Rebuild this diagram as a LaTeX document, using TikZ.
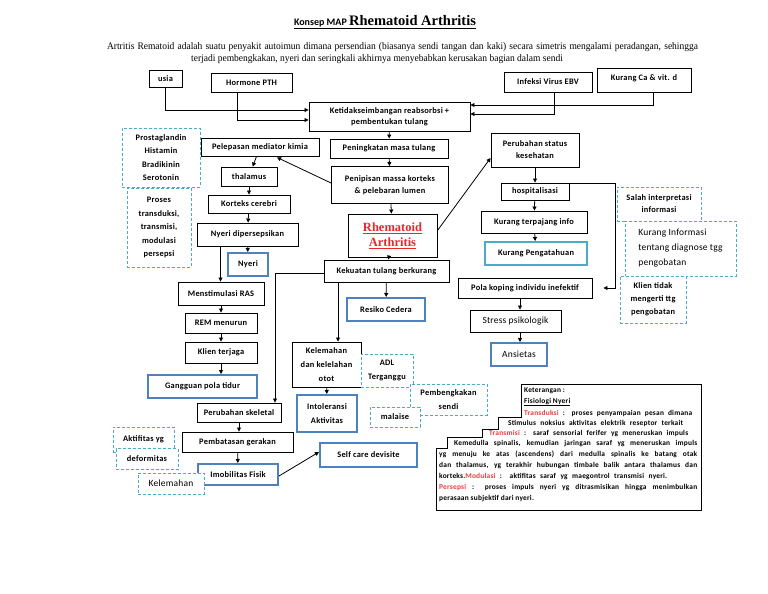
\documentclass[tikz,border=0pt]{standalone}
\usepackage{fontspec}
\setmainfont{Carlito}
\newfontfamily\timesf{Liberation Serif}
\newfontfamily\timesn[FakeStretch=0.95]{Liberation Serif}
\usetikzlibrary{arrows.meta,calc}
\definecolor{bluebox}{HTML}{4F81BD}
\definecolor{tealdash}{HTML}{4BACC6}
\definecolor{rared}{HTML}{E8262B}
\definecolor{ketred}{HTML}{F03C3C}
\newcommand{\kr}[1]{\textcolor{ketred}{#1}}
\tikzset{
 box/.style={draw=black, line width=0.9pt, fill=white, inner sep=1pt, align=center,
   font=\bfseries\fontsize{8.4}{14}\selectfont\addfontfeature{LetterSpace=3}},
 bbox/.style={box, draw=bluebox, line width=2pt},
 tbox/.style={box, draw=tealdash, line width=2pt},
 dbox/.style={box, draw=tealdash, line width=0.8pt, dash pattern=on 3pt off 2pt},
 regtext/.style={font=\mdseries\fontsize{9.5}{15}\selectfont\addfontfeature{LetterSpace=2}},
 arr/.style={-{Triangle[length=4pt,width=4pt]}, line width=0.8pt},
 ket/.style={anchor=base west, inner sep=0, font=\bfseries\fontsize{7.4}{8}\selectfont\addfontfeature{LetterSpace=3}},
 sz/.style 2 args={minimum width=#1pt, minimum height=#2pt},
}
\begin{document}
\begin{tikzpicture}[x=1pt,y=-1pt]
\useasboundingbox[fill=white] (0,0) rectangle (768,594);

% title and intro
\node[inner sep=0] (title) at (385,22) {$\underline{\hbox{\bfseries\fontsize{10}{11}\selectfont Konsep MAP \timesf\fontsize{14.5}{16}\selectfont Rhematoid Arthritis}}$};
\node[inner sep=0, font=\timesn\fontsize{10}{12}\selectfont] (intro1) at (402.5,47) {\makebox[591pt][s]{Artritis Rematoid adalah suatu penyakit autoimun dimana persendian (biasanya sendi tangan dan kaki) secara simetris mengalami peradangan, sehingga}};
\node[inner sep=0, font=\timesn\fontsize{10}{12}\selectfont] (intro2) at (377,59) {terjadi pembengkakan, nyeri dan seringkali akhirnya menyebabkan kerusakan bagian dalam sendi};

% top row
\node[box, sz={33}{17}] (usia) at (165.5,78.5) {usia};
\node[box, sz={81}{19}] (pth) at (251.5,82.5) {Hormone PTH};
\node[box, sz={88}{20}] (ebv) at (548,82) {Infeksi Virus EBV};
\node[box, sz={94}{24}, text depth=5pt] (ca) at (644,80) {Kurang Ca \& vit. d};

% central column
\node[box, sz={161}{29}] (ketidak) at (389.5,116.5) {Ketidakseimbangan reabsorbsi +\\[-3pt]pembentukan tulang};
\node[box, sz={118}{19}] (pening) at (389,148.5) {Peningkatan masa tulang};
\node[box, sz={117}{37}] (penip) at (390,185) {Penipisan massa korteks\\[-2pt]\& pelebaran lumen};
\node[box, sz={89}{43}, font=\timesf\bfseries\fontsize{12.5}{15}\selectfont, text=rared] (ra) at (392.5,235.5) {\underline{Rhematoid}\\\underline{Arthritis}};
\node[box, sz={125}{22}] (kekuatan) at (386.5,271) {Kekuatan tulang berkurang};
\node[bbox, sz={78}{23}] (resiko) at (386,309.5) {Resiko Cedera};
\node[box, sz={69}{45}] (kelemahan) at (326.5,364.5) {Kelemahan\\dan kelelahan\\otot};
\node[dbox, sz={52}{33}] (adl) at (387,370.5) {ADL\\Terganggu};
\node[bbox, sz={60}{37}] (intol) at (327,413.5) {Intoleransi\\Aktivitas};
\node[dbox, sz={77}{31}] (pemb) at (448.5,399.5) {Pembengkakan\\sendi};
\node[dbox, sz={50}{20}] (malaise) at (395,417) {malaise};
\node[bbox, sz={97}{24}] (selfcare) at (368.5,455) {Self care devisite};

% left column
\node[dbox, sz={78}{59}, font=\bfseries\fontsize{8.4}{13.5}\selectfont\addfontfeature{LetterSpace=3}] (prosta) at (161,157.5) {Prostaglandin\\Histamin\\Bradikinin\\Serotonin};
\node[dbox, sz={64}{79}, font=\bfseries\fontsize{8.4}{13.5}\selectfont\addfontfeature{LetterSpace=3}] (proses) at (159,227.5) {Proses\\transduksi,\\transmisi,\\modulasi\\persepsi};
\node[box, sz={118}{18}] (pel) at (260,147) {Pelepasan mediator kimia};
\node[box, sz={56}{19}] (thal) at (249,176.5) {thalamus};
\node[box, sz={82}{18}] (korteks) at (249,204) {Korteks cerebri};
\node[box, sz={101}{23}] (nyeridp) at (247.5,234.5) {Nyeri dipersepsikan};
\node[bbox, sz={40}{23}] (nyeri) at (248,264.5) {Nyeri};
\node[box, sz={86}{23}] (ras) at (221,293.5) {Menstimulasi RAS};
\node[box, sz={72}{20}] (rem) at (221,323) {REM menurun};
\node[box, sz={72}{21}] (klien) at (221,352.5) {Klien terjaga};
\node[bbox, sz={109}{23}] (gangguan) at (202.5,386.5) {Gangguan pola tidur};
\node[box, sz={84}{19}] (skeletal) at (239,412.5) {Perubahan skeletal};
\node[box, sz={111}{20}] (batas) at (237.5,442) {Pembatasan gerakan};
\node[bbox, sz={80}{21}] (imob) at (238,474.5) {Imobilitas Fisik};
\node[dbox, sz={61}{25}] (aktif) at (143.5,439.5) {Aktifitas yg};
\node[dbox, sz={62}{21}] (deform) at (147,459) {deformitas};
\node[dbox, sz={66}{21}, regtext] (kelem2) at (171,483.5) {Kelemahan};

% right column
\node[box, sz={88}{34}] (psk) at (535,150) {Perubahan status\\[-2pt]kesehatan};
\node[box, sz={68}{17}] (hosp) at (535,191.5) {hospitalisasi};
\node[box, sz={106}{22}] (kti) at (534,222) {Kurang terpajang info};
\node[tbox, sz={102}{23}] (kp) at (536,253.5) {Kurang Pengatahuan};
\node[dbox, sz={84}{34}] (salah) at (659,204) {Salah interpretasi\\[-2pt]informasi};
\node[dbox, sz={111}{55}, regtext, align=left] (kinfo) at (680.5,248.5) {Kurang Informasi\\tentang diagnose tgg\\pengobatan};
\node[dbox, sz={66}{47}, font=\bfseries\fontsize{8.4}{13}\selectfont\addfontfeature{LetterSpace=3}] (ktidak) at (653,299.5) {Klien tidak\\mengerti ttg\\pengobatan};
\node[box, sz={134}{20}] (pola) at (525,288) {Pola koping individu inefektif};
\node[box, sz={91}{22}, regtext] (stress) at (515.5,321) {Stress psikologik};
\node[bbox, sz={56}{23}, regtext] (ansietas) at (519,354.5) {Ansietas};

% connectors: top
\draw[arr] (usia.south) |- ($(ketidak.west)+(0,-6.5)$);
\draw[arr] ($(pth.south)+(-14,0)$) |- ($(ketidak.west)+(0,3.5)$);
\draw[arr] ($(ebv.south)+(6,0)$) |- ($(ketidak.east)+(0,-2.5)$);
\draw[arr] ($(ca.south)+(9,0)$) |- ($(ketidak.east)+(0,-11.5)$);
% central chain
\draw[arr] (ketidak) -- (pening);
\draw[arr] (pening) -- (penip);
\draw[arr] (penip) -- (ra);
\draw[arr] (ra) -- (kekuatan);
\draw[arr] ($(penip.west)+(0,-2)$) -- ($(pel.south)+(17,1)$);
\draw[arr] ($(ra.east)+(0,-5)$) -- ($(psk.west)+(0,8)$);
% left chain
\draw[arr] (pel) -- (thal);
\draw[arr] (thal) -- (korteks);
\draw[arr] (korteks) -- (nyeridp);
\draw[arr] (nyeridp) -- (nyeri);
\coordinate (nd) at ($(nyeridp.south)+(-27,0)$);
\draw[arr] (nd) -- (nd |- ras.north);
\draw[arr] (ras) -- (rem);
\draw[arr] (rem) -- (klien);
\draw[arr] (klien.south) -- (klien.south |- gangguan.north);
% from kekuatan
\draw[arr] ($(kekuatan.west)+(0,2)$) -| ($(skeletal.north)+(36,0)$);
\coordinate (k1) at ($(kekuatan.south)+(-48.5,0)$);
\draw[arr] (k1) -- (k1 |- kelemahan.north);
\draw[arr] (kekuatan) -- (resiko);
\draw[arr] (kelemahan) -- (intol);
\draw[arr] (skeletal.south) -- (skeletal.south |- batas.north);
\draw[arr] (batas) -- (imob);
\draw[arr] ($(imob.east)+(0,1.5)$) -- ($(selfcare.west)+(0,-3)$);
% right chain
\draw[arr] (psk) -- (hosp);
\draw[arr] (hosp) -- (kti);
\draw[arr] (kti) -- (kp);
\coordinate (h1) at ($(hosp.north east)+(46,1)$);
\draw[arr] ($(hosp.north east)+(0,1)$) -- (h1) |- ($(pola.east)+(11,0)$);
\coordinate (p1) at ($(pola.south)+(-5,0)$);
\draw[arr] (p1) -- (p1 |- stress.north);
\draw[arr] (p1 |- stress.south) -- (p1 |- ansietas.north);

% keterangan
\draw[line width=0.9pt] (521,384) -- (701,384) -- (701,510) -- (436,510) -- (436,448) -- (447,448) -- (447,437) -- (482,437) -- (482,429) -- (498,429) -- (498,417) -- (521,417) -- cycle;
\node[ket] (k1t) at (524,392) {Keterangan :};
\node[ket] (k2t) at (524,403) {\underline{Fisiologi Nyeri}};
\node[ket] (k3t) at (524,415) {\makebox[168pt][s]{\kr{Transduksi} : proses penyampaian pesan dimana}};
\node[ket] (k4t) at (508,425) {\makebox[175pt][s]{Stimulus noksius aktivitas elektrik reseptor terkait}};
\node[ket] (k5t) at (489,435) {\makebox[199pt][s]{\kr{Transmisi} : saraf sensorial ferifer yg meneruskan impuls}};
\node[ket] (k6t) at (454,445) {\makebox[243pt][s]{Kemedulla spinalis, kemudian jaringan saraf yg meneruskan impuls}};
\node[ket] (k7t) at (439,456) {\makebox[258pt][s]{yg menuju ke atas (ascendens) dari medulla spinalis ke batang otak}};
\node[ket] (k8t) at (439,467) {\makebox[258pt][s]{dan thalamus, yg terakhir hubungan timbale balik antara thalamus dan}};
\node[ket] (k9t) at (439,478) {\makebox[228pt][s]{korteks.\kr{Modulasi} : aktifitas saraf yg maegontrol transmisi nyeri.}};
\node[ket] (k10t) at (439,489) {\makebox[258pt][s]{\kr{Persepsi} : proses impuls nyeri yg ditrasmisikan hingga menimbulkan}};
\node[ket] (k11t) at (439,500) {perasaan subjektif dari nyeri.};
\end{tikzpicture}
\end{document}
